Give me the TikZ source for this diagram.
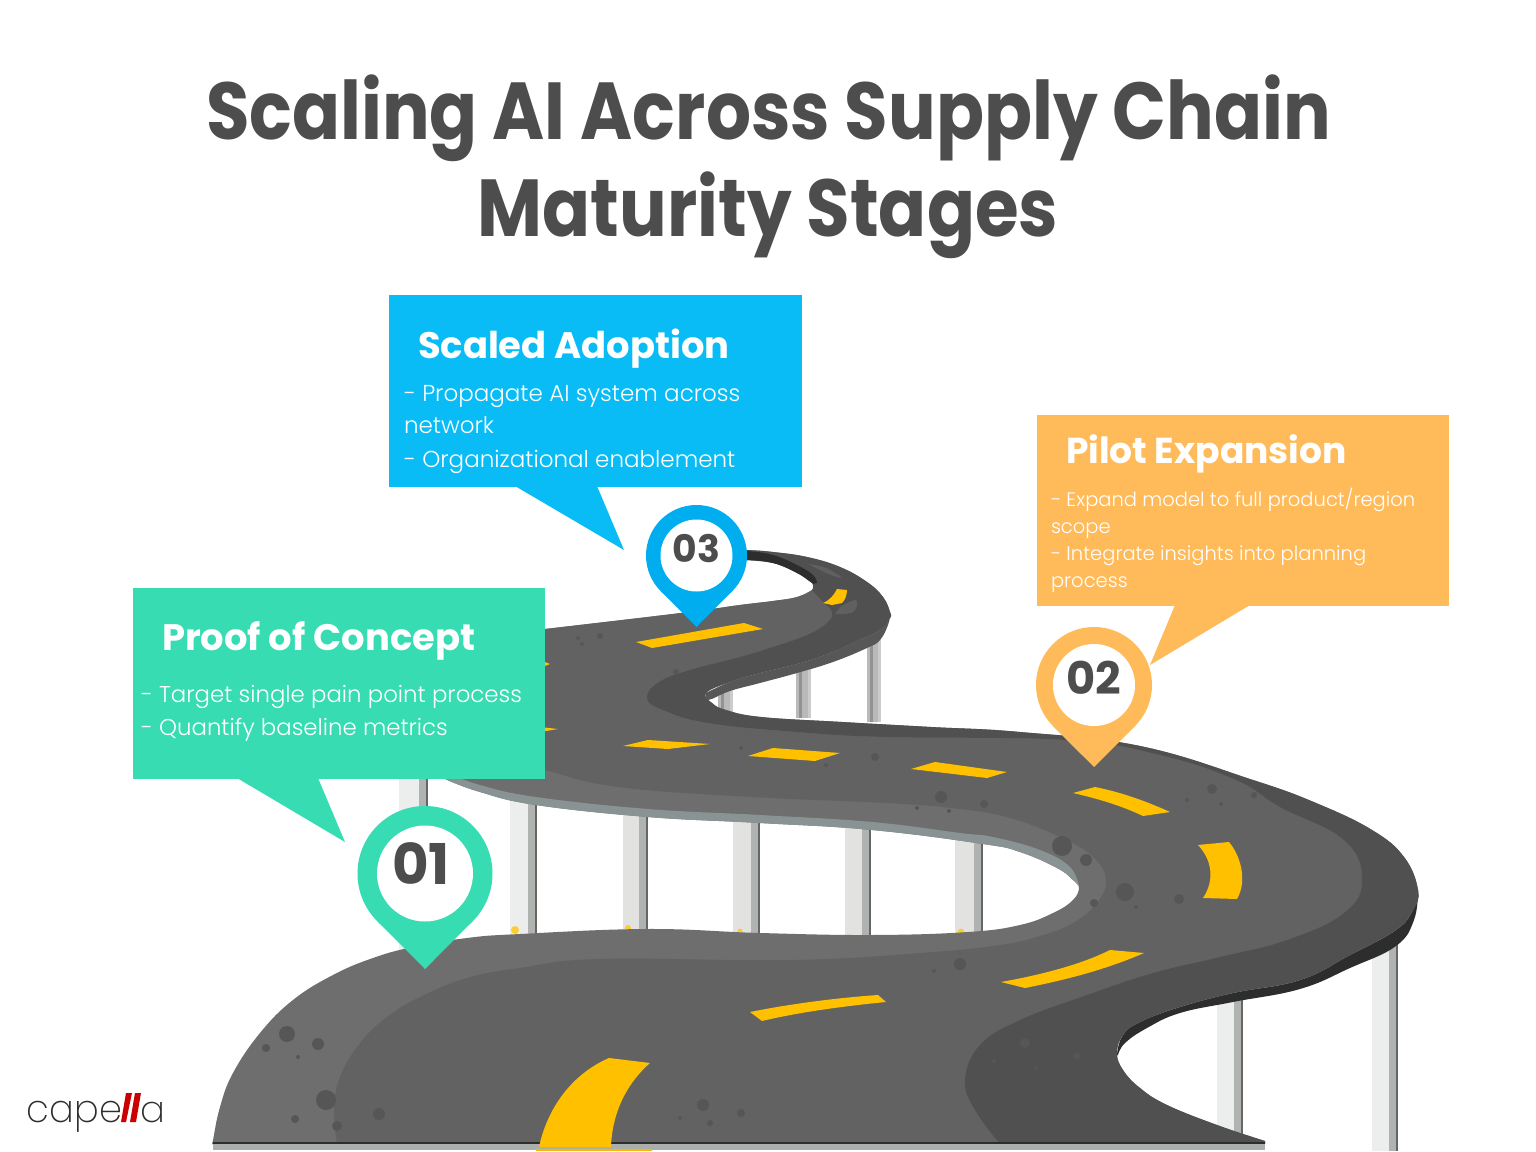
\documentclass[tikz,border=0pt]{standalone}
\usepackage{fontspec}
\setmainfont{Poppins}
\newfontfamily\lightf{Poppins Light}
\newfontfamily\thinf{Poppins ExtraLight}
\newfontfamily\boldf{Poppins}[UprightFont=* Bold]
\definecolor{txt}{HTML}{4D4D4D}
\definecolor{rlight}{HTML}{6E6E6E}
\definecolor{rmid}{HTML}{626262}
\definecolor{rdark}{HTML}{505050}
\definecolor{rblack}{HTML}{2D2D2D}
\definecolor{strip}{HTML}{8A9393}
\definecolor{yel}{HTML}{FFC000}
\definecolor{cblue}{HTML}{0ABCF5}
\definecolor{cpin}{HTML}{00AEEF}
\definecolor{corange}{HTML}{FFBB5A}
\definecolor{cgreen}{HTML}{38DCB2}
\definecolor{pilL}{HTML}{EBEEEC}
\definecolor{pilM}{HTML}{E2E2E0}
\definecolor{pilR}{HTML}{B0B4B0}
\definecolor{speckc}{HTML}{565656}
\tikzset{
  txtnode/.style={inner sep=0pt,outer sep=0pt,anchor=base west},
  head/.style={txtnode,text=white},
  body/.style={txtnode,text=white},
  pinnum/.style={inner sep=0pt,outer sep=0pt,text=txt},
  sm/.style={smooth,tension=.7}
}
\newcommand{\pillar}[5]{% x1 x2 ytop ybot colour
  \fill[#5] (#1,#3) rectangle (#2,#4);
  \fill[pilR] ({#2-9},#3) rectangle (#2,#4);
  \fill[gray!80!black] ({#2-2},#3) rectangle (#2,#4);
}
\newcommand{\backpillar}[4]{%
  \fill[gray!55] (#1,#3) rectangle (#2,#4);
  \fill[gray!85] ({#1+3},#3) rectangle ({#1+6},#4);
  \fill[gray!40] ({#2-3},#3) rectangle (#2,#4);
}
\newcommand{\pinshape}[6]{% cx cy r tipdist innerR colour
  \pgfmathsetmacro{\ang}{acos(#3/#4)}
  \pgfmathsetmacro{\tx}{#3*sin(\ang)}
  \pgfmathsetmacro{\ty}{#3*cos(\ang)}
  \fill[#6] (#1,#2) circle[radius=#3*0.02cm];
  \fill[#6] ({#1-\tx},{#2+\ty}) -- (#1,{#2+#4}) -- ({#1+\tx},{#2+\ty}) -- cycle;
  \fill[white] (#1,#2) circle[radius=#5*0.02cm];
}
\begin{document}
\begin{tikzpicture}[x=0.02cm,y=-0.02cm]
\useasboundingbox (0,0) rectangle (1536,1152);
\fill[white] (0,0) rectangle (1536,1152);

% pillars
\backpillar{867}{881}{636}{722}
\backpillar{796}{811}{665}{718}
\backpillar{718}{733}{688}{712}
\pillar{399}{428}{775}{960}{pilL}
\pillar{510}{537}{800}{934}{pilL}
\pillar{623}{648}{812}{932}{pilM}
\pillar{733}{760}{820}{935}{pilM}
\pillar{845}{871}{828}{937}{pilM}
\pillar{955}{983}{838}{934}{pilM}
\pillar{1217}{1243}{995}{1135}{pilL}
\pillar{1372}{1398}{940}{1151}{pilL}
\fill[yel!80!white] (515,930) circle[radius=0.08cm] (628,928) circle[radius=0.06cm] (740,931) circle[radius=0.05cm] (961,932) circle[radius=0.07cm];

% underside of upper bend
\fill[rblack!80!white] plot[sm] coordinates {(890,615)(888,625)(880,640)(867,648)(833,662)(797,673)(760,683)(730,691)(708,700)(706,693)}
  -- plot[sm] coordinates {(706,693)(730,682)(760,673)(797,664)(830,653)(857,641)(880,630)(890,618)} -- cycle;

% shadow under right bend
\fill[rblack] plot[sm] coordinates {(1418,890)(1414,920)(1396,946)(1350,968)(1300,989)(1233,1002)(1180,1013)(1147,1028)(1125,1043)(1118,1055)}
  -- plot[sm] coordinates {(1118,1055)(1117,1053)(1123,1035)(1140,1022)(1180,1007)(1233,993)(1300,980)(1350,955)(1396,930)(1413,910)(1418,890)} -- cycle;

% road surface silhouette
\fill[rlight] plot[sm] coordinates {(212,1144)(213,1140)(220,1107)(233,1073)(260,1033)(293,1000)(333,975)(373,958)(413,947)(467,938)(520,934)(648,929)(760,933)(872,935)(968,932)(1020,925)(1053,913)(1073,900)(1079,887)(1073,880)(1057,868)(1020,852)(983,844)(872,830)(760,823)(648,817)(536,805)(480,792)(445,779)}
  -- (400,720) -- (545,629)
  -- plot[sm] coordinates {(545,629)(681,613)(740,605)(773,601)(797,597)(812,590)(817,583)(813,575)(797,568)(773,563)(747,560)(730,560)}
  -- plot[sm] coordinates {(730,550)(747,550)(773,552)(807,557)(840,567)(867,582)(883,597)(890,612)(890,618)(880,630)(857,641)(830,653)(797,664)(760,673)(730,682)(706,693)(712,703)(726,710)(761,717)(842,722)(931,727)(1020,732)(1140,746)(1253,780)(1316,803)(1372,830)(1404,857)(1418,890)(1413,910)(1396,930)(1350,955)(1300,980)(1233,993)(1180,1007)(1140,1022)(1123,1035)(1117,1053)(1123,1070)(1140,1088)(1167,1105)(1217,1125)(1265,1141)}
  -- (1265,1144) -- cycle;

% grey under-strip of the lower bend
\fill[strip] plot[sm] coordinates {(1079,887)(1073,880)(1057,868)(1020,852)(983,844)(872,830)(760,823)(648,817)(536,805)(480,792)(445,779)}
  -- plot[sm] coordinates {(445,772)(480,785)(536,797)(648,809)(760,815)(872,822)(960,833)(993,837)(1040,850)(1070,867)(1079,887)} -- cycle;

% mid tone
\fill[rmid] plot[sm] coordinates {(337,1144)(334,1110)(340,1077)(360,1043)(387,1017)(420,997)(467,978)(520,968)(600,959)(792,960)(920,953)(1000,945)(1043,935)(1073,923)(1097,903)(1106,880)(1093,857)(1060,837)(1010,818)(960,809)(886,803)(752,797)(618,787)(545,770)(490,755)}
  -- (440,700) -- (545,629)
  -- plot[sm] coordinates {(545,629)(681,613)(740,605)(773,601)(797,597)(812,590)}
  -- plot[sm] coordinates {(812,590)(823,602)(832,612)(827,623)(807,635)(773,647)(740,657)(690,670)(659,682)(647,698)(663,710)(708,723)(797,732)(886,737)(1065,740)(1160,755)(1236,780)(1280,807)(1344,840)(1362,880)(1344,913)(1287,940)(1220,957)(1153,973)(1087,995)(1020,1020)(980,1045)(965,1080)(975,1110)(1000,1144)} -- cycle;

% dark tone
\fill[rdark] plot[sm] coordinates {(812,590)(823,602)(832,612)(827,623)(807,635)(773,647)(740,657)(690,670)(659,682)(647,698)(663,710)(708,723)(797,732)(886,737)(1065,740)(1160,755)(1236,780)(1280,807)(1344,840)(1362,880)(1344,913)(1287,940)(1220,957)(1153,973)(1087,995)(1020,1020)(980,1045)(965,1080)(975,1110)(1000,1144)}
  -- (1265,1144) -- (1265,1141)
  -- plot[sm] coordinates {(1265,1141)(1217,1125)(1167,1105)(1140,1088)(1123,1070)(1117,1053)(1123,1035)(1140,1022)(1180,1007)(1233,993)(1300,980)(1350,955)(1396,930)(1413,910)(1418,890)(1404,857)(1372,830)(1316,803)(1253,780)(1140,746)(1020,732)(931,727)(842,722)(761,717)(726,710)(712,703)(706,693)(730,682)(760,673)(797,664)(830,653)(857,641)(880,630)(890,618)(890,612)(883,597)(867,582)(840,567)(807,557)(773,552)(747,550)(730,550)}
  -- (730,560)
  -- plot[sm] coordinates {(730,560)(747,560)(773,563)(797,573)(812,583)(812,590)} -- cycle;

% black band of far lane
\fill[rblack] plot[sm] coordinates {(730,551)(747,551)(773,555)(797,565)(813,575)(817,583)}
  -- plot[sm] coordinates {(815,583)(812,583)(797,573)(773,563)(747,560)(730,560)} -- cycle;
% highlights on upper bend
\fill[rmid!90!rdark] plot[sm] coordinates {(840,607)(856,600)(853,612)(835,614)} -- cycle;
\fill[rmid!90!rdark] plot[sm] coordinates {(808,564)(826,568)(842,578)(828,574)} -- cycle;

% bottom edge
\fill[pilR!90!gray] (213,1144) rectangle (1265,1150);
\fill[rblack] (213,1142) rectangle (1265,1144);
\fill[yel!85!orange] (536,1149) rectangle (652,1151);

% lane dashes
\fill[yel] (539,1147) .. controls (547,1110) and (570,1075) .. (609,1058) -- (650,1063) .. controls (625,1085) and (612,1115) .. (611,1147) -- cycle;
\fill[yel] (750,1012) .. controls (790,1004) and (835,998) .. (878,995) -- (886,1002) .. controls (845,1006) and (800,1012) .. (762,1021) -- cycle;
\fill[yel] (1001,982) .. controls (1040,975) and (1080,965) .. (1110,950) -- (1144,953) .. controls (1105,970) and (1065,980) .. (1025,988) -- cycle;
\fill[yel] (1198,845) -- (1229,842) .. controls (1240,855) and (1248,880) .. (1237,899) -- (1203,898) .. controls (1215,880) and (1212,860) .. (1198,845) -- cycle;
\fill[yel] (1073,793) -- (1095,787) .. controls (1125,793) and (1150,803) .. (1170,812) -- (1143,816) .. controls (1120,805) and (1095,798) .. (1073,793) -- cycle;
\fill[yel] (911,769) -- (935,762) -- (1007,772) -- (987,778) -- cycle;
\fill[yel] (748,756) -- (773,748) -- (840,753) -- (815,761) -- cycle;
\fill[yel] (623,746) -- (648,740) -- (710,744) -- (668,749) -- cycle;
\fill[yel] (636,642) -- (744,623) -- (763,629) -- (652,648) -- cycle;
\fill[yel] (823,603) .. controls (830,600) and (834,595) .. (837,589) -- (847,590) .. controls (847,595) and (845,600) .. (842,603) -- (832,605) -- cycle;
\fill[yel] (540,660) -- (550,664) -- (540,668) -- cycle;
\fill[yel] (540,727) -- (558,729) -- (540,732) -- cycle;

% road specks
\foreach \a/\b/\r in {287/1034/8,318/1044/6,266/1048/4,298/1057/2,326/1100/10,379/1114/6,295/1119/4,337/1126/5,703/1105/6,741/1113/4,680/1118/2,710/1123/3,960/964/6,934/971/2,1125/892/9,1179/899/5,1136/907/2,1094/903/4,1062/846/10,1086/860/6,941/797/6,984/804/4,917/808/2,949/811/2,1212/789/5,1254/795/3,1187/800/2,1221/804/2,875/757/4,826/765/2,741/748/2,600/636/3,578/638/2,582/644/2,676/672/3,1025/1043/5,1077/1056/4,994/1061/2,1036/1068/2}
  \fill[speckc] (\a,\b) circle[radius=\r*0.02cm];

% callouts
\fill[cblue] (389,295) rectangle (802,487);
\fill[cblue] (515,486) -- (624,550) -- (597,486) -- cycle;
\fill[corange] (1037,415) rectangle (1449,606);
\fill[corange] (1250,605) -- (1150,665) -- (1175,605) -- cycle;
\fill[cgreen] (133,588) rectangle (545,779);
\fill[cgreen] (237,778) -- (345,842) -- (318,778) -- cycle;

% pins
\pinshape{425}{873.5}{67.5}{95.5}{48}{cgreen}
\pinshape{1094}{685}{58}{82}{41}{corange}
\pinshape{696.5}{555.5}{50.5}{71.5}{36}{cpin}

% pin numbers
\node[pinnum] (n1) at (421,864) {\boldf\fontsize{32}{32}\selectfont 01};
\node[pinnum] (n2) at (1094,678) {\boldf\fontsize{25.5}{26}\selectfont 02};
\node[pinnum] (n3) at (696.5,548.5) {\boldf\fontsize{21.5}{22}\selectfont 03};

% title
\node[inner sep=0pt,anchor=base,text=txt] (t1) at (768.5,140) {\boldf\fontsize{46}{50}\selectfont\scalebox{.875}[1]{Scaling AI Across Supply Chain}};
\node[inner sep=0pt,anchor=base,text=txt] (t2) at (768,237) {\boldf\fontsize{46}{50}\selectfont\scalebox{.875}[1]{Maturity Stages}};

% box text
\node[head] (h3) at (418,358) {\boldf\fontsize{21}{22}\selectfont Scaled Adoption};
\node[body] (b3a) at (404,401) {\lightf\fontsize{13.1}{15}\selectfont - Propagate AI system across};
\node[body] (b3b) at (404,434) {\lightf\fontsize{13.1}{15}\selectfont network};
\node[body] (b3c) at (404,467) {\lightf\fontsize{13.1}{15}\selectfont - Organizational enablement};

\node[head] (h2) at (1066,463) {\boldf\fontsize{20.5}{22}\selectfont Pilot Expansion};
\node[body] (b2a) at (1051,506) {\lightf\fontsize{11.1}{13}\selectfont - Expand model to full product/region};
\node[body] (b2b) at (1051,533) {\lightf\fontsize{11.1}{13}\selectfont scope};
\node[body] (b2c) at (1051,560) {\lightf\fontsize{11.1}{13}\selectfont - Integrate insights into planning};
\node[body] (b2d) at (1051,587) {\lightf\fontsize{11.1}{13}\selectfont process};

\node[head] (h1) at (162,650) {\boldf\fontsize{21}{22}\selectfont Proof of Concept};
\node[body] (b1a) at (141,702) {\lightf\fontsize{13}{15}\selectfont - Target single pain point process};
\node[body] (b1b) at (141,735) {\lightf\fontsize{13}{15}\selectfont - Quantify baseline metrics};

% logo
\node[txtnode,text=rblack] (lg1) at (27,1122) {\thinf\fontsize{22}{22}\selectfont\scalebox{.95}[1]{cape}};
\node[txtnode,text=rblack] (lg2) at (140,1122) {\thinf\fontsize{21}{22}\selectfont a};
\fill[red!80!black] (126,1093) -- (132,1093) -- (126,1122) -- (121,1122) -- cycle;
\fill[red!80!black] (135,1093) -- (141,1093) -- (136,1122) -- (130,1122) -- cycle;
\end{tikzpicture}
\end{document}
